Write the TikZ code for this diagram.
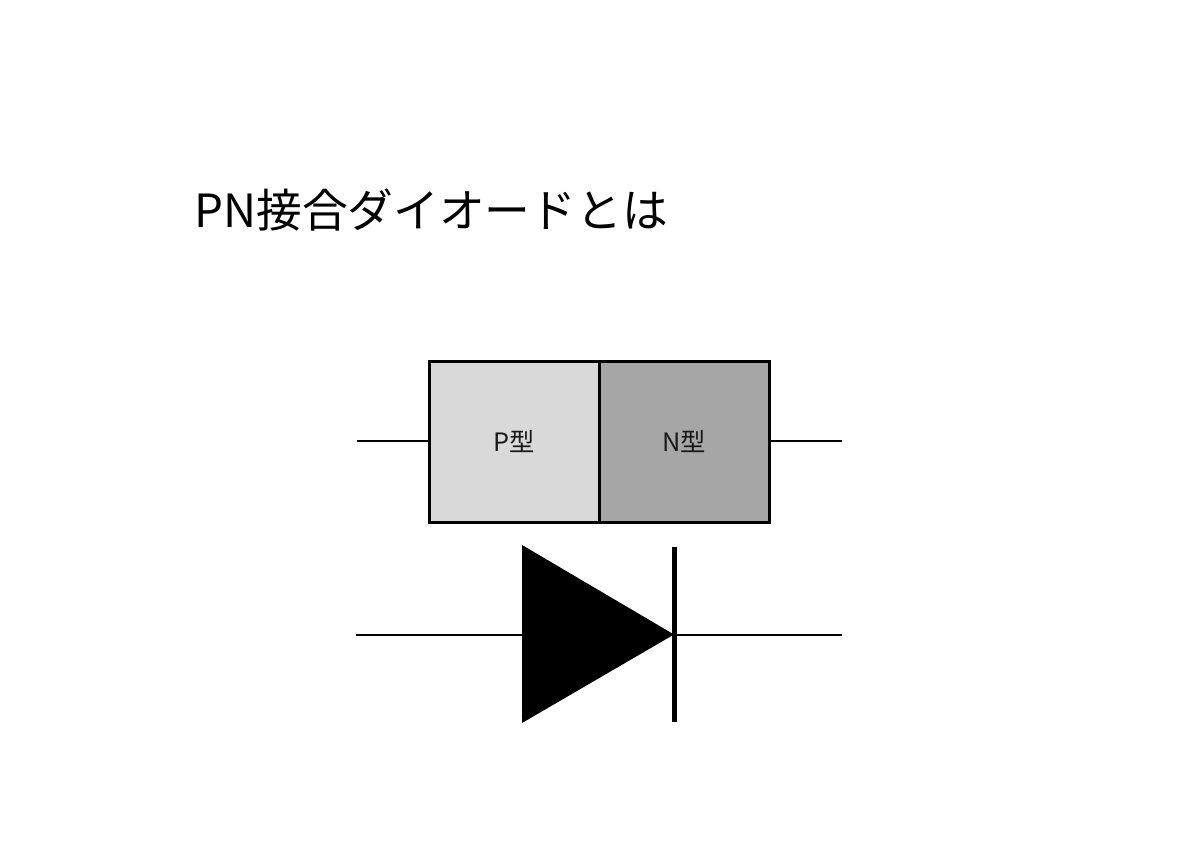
\documentclass[tikz,border=0pt]{standalone}
\usepackage{fontspec}
\setmainfont{Noto Sans CJK JP}
\tikzset{
  region/.style={draw=black,line width=2pt,minimum height=120.75pt,inner sep=0pt,font=\fontsize{19}{21}\selectfont,text=black!90},
  wire/.style={draw=black,line width=1.5pt},
  thickbar/.style={draw=black,line width=3.3pt}
}
\begin{document}
\begin{tikzpicture}[x=0.75pt,y=-0.75pt]
\useasboundingbox (0,0) rectangle (1200,848);
\node[anchor=base west,inner sep=0pt,font=\fontsize{34.3}{40}\selectfont] (title) at (194,228) {PN接合ダイオードとは};
\node[region,fill=black!15,minimum width=127.5pt] (p) at (514.5,442) {P型};
\node[region,fill=black!35,minimum width=127.5pt] (n) at (684.5,442) {N型};
\coordinate (pl) at (357,441.5);
\coordinate (nr) at (842,441.5);
\draw[wire] (pl) -- (pl -| p.west);
\draw[wire] (nr -| n.east) -- (nr);
\coordinate (a) at (522,545);
\coordinate (b) at (522,723);
\coordinate (c) at (674,634.5);
\coordinate (dl) at (356,634.5);
\coordinate (dr) at (842,634.5);
\coordinate (bt) at (674.5,547);
\coordinate (bb) at (674.5,722);
\fill[black] (a) -- (c) -- (b) -- cycle;
\draw[thickbar] (bt) -- (bb);
\draw[wire] (dl) -- (dl -| a);
\draw[wire] (c) -- (dr);
\end{tikzpicture}
\end{document}
